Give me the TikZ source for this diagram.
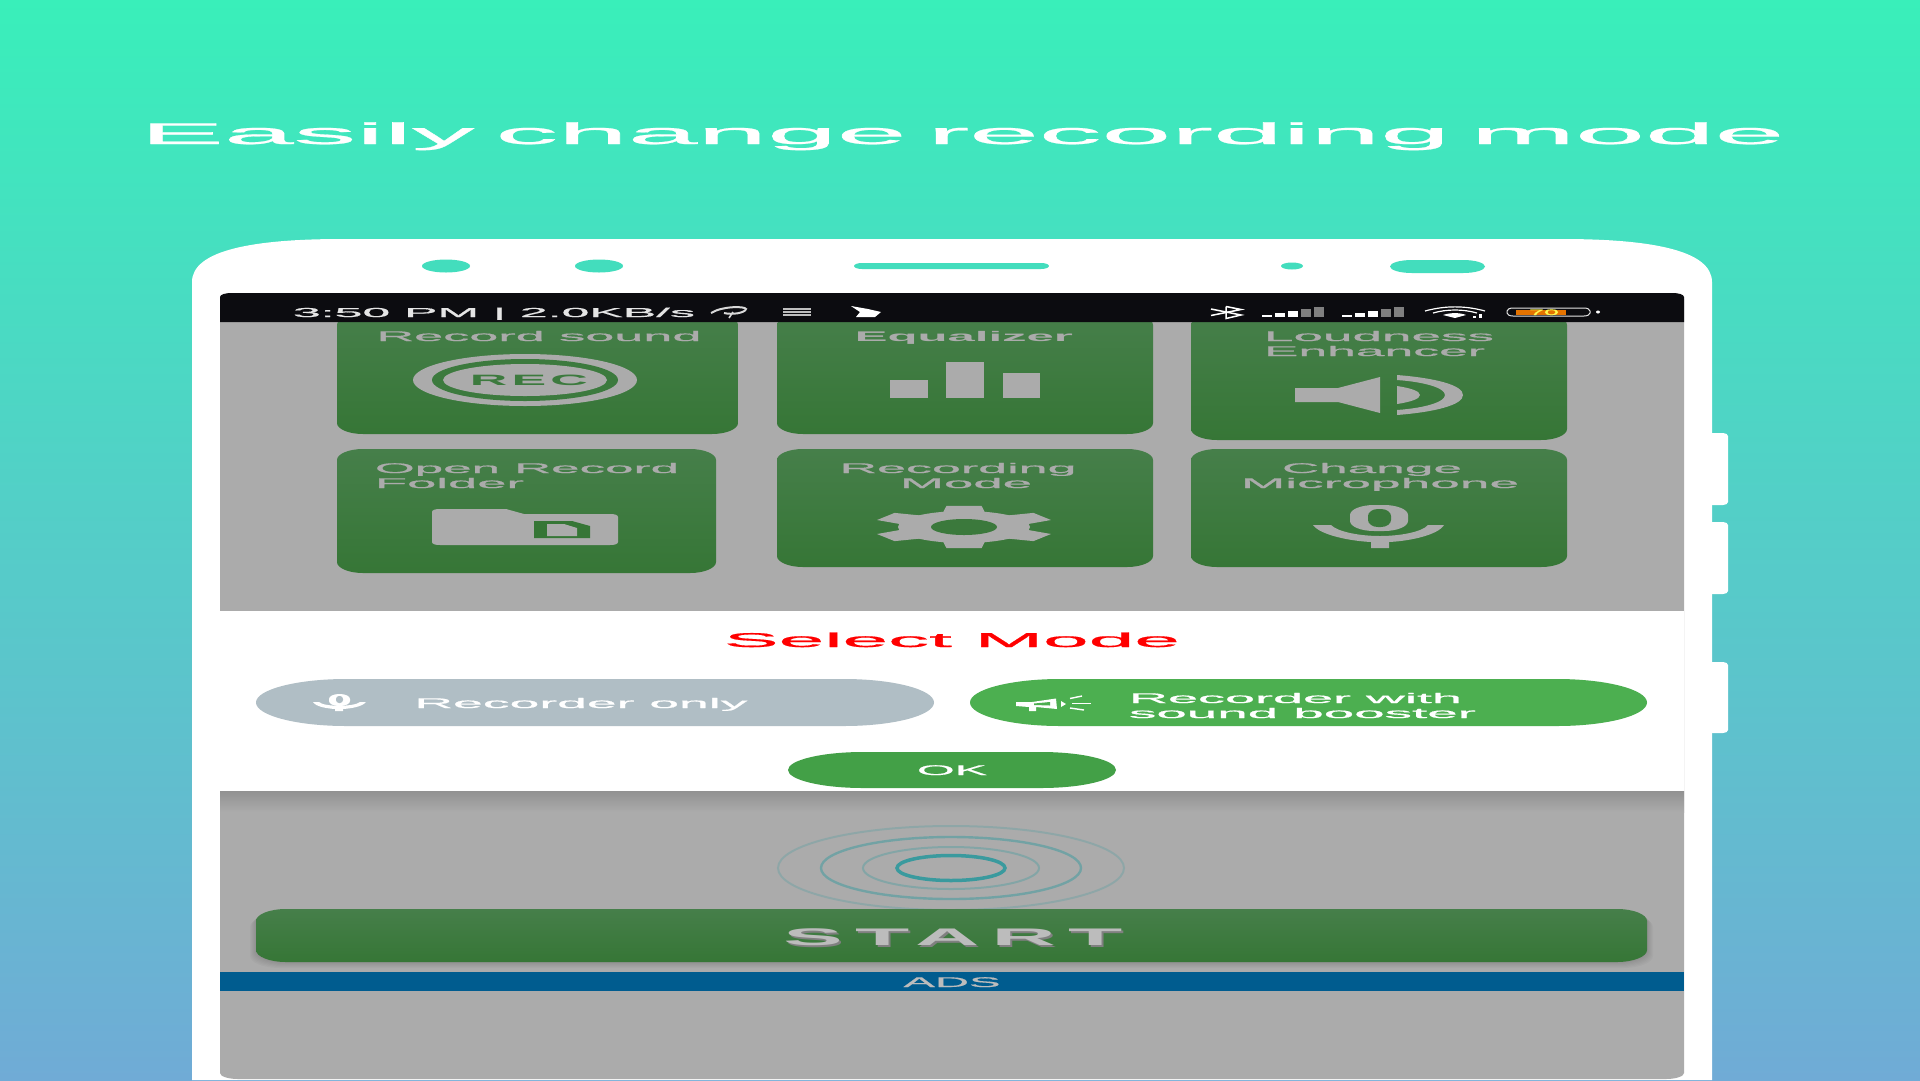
\documentclass[tikz,border=0pt]{standalone}
\usepackage{graphicx}
\usepackage{fontspec}
\setmainfont[FakeBold=0.6,BoldFeatures={FakeBold=0}]{Liberation Sans}
\newfontfamily\titlefont[WordSpace=0.6,FakeBold=0.6]{Liberation Sans}
\usetikzlibrary{calc}

\definecolor{bgtop}{HTML}{39EFBA}
\definecolor{bgbottom}{HTML}{70ABD6}
\definecolor{hole}{HTML}{43DDBD}
\definecolor{screengray}{HTML}{ABABAB}
\definecolor{barblack}{HTML}{0C0C10}
\definecolor{btntop}{HTML}{467F4A}
\definecolor{btnbottom}{HTML}{367636}
\definecolor{pillgray}{HTML}{B0BEC5}
\definecolor{pillgreen}{HTML}{4CAF50}
\definecolor{okgreen}{HTML}{43A047}
\definecolor{adsblue}{HTML}{005C8F}
\definecolor{ringteal}{HTML}{3A9A9E}

\newcommand{\rrect}[6]{({#1+#5},#2) -- ({#3-#5},#2) .. controls ({#3-0.45*#5},#2) and (#3,{#2+0.45*#6}) .. (#3,{#2+#6}) -- (#3,{#4-#6}) .. controls (#3,{#4-0.45*#6}) and ({#3-0.45*#5},#4) .. ({#3-#5},#4) -- ({#1+#5},#4) .. controls ({#1+0.45*#5},#4) and (#1,{#4-0.45*#6}) .. (#1,{#4-#6}) -- (#1,{#2+#6}) .. controls (#1,{#2+0.45*#6}) and ({#1+0.45*#5},#2) .. ({#1+#5},#2) -- cycle}
\newcommand{\widetext}[2]{\resizebox{#1pt}{\height}{#2}}

\tikzset{
	txt/.style={inner sep=0pt,outer sep=0pt,anchor=base},
	btn/.style={top color=btntop,bottom color=btnbottom},
	btntxt/.style={txt,text=screengray,font=\fontsize{14}{14}\selectfont},
	pilltxt/.style={txt,text=white,font=\fontsize{14}{14}\selectfont},
	bartxt/.style={txt,text=white!90!black,font=\fontsize{13}{13}\selectfont}
}

\begin{document}
\begin{tikzpicture}[x=1pt,y=-1pt]
	\useasboundingbox (0,0) rectangle (1920,1080);

	\shade[top color=bgtop,bottom color=bgbottom] (0,0) rectangle (1920,1080);

	\node[txt,text=white,font=\titlefont\fontsize{30}{30}\selectfont] (title) at (962.5,144) {\widetext{1644}{Easily change recording mode}};

	% side keys
	\fill[white] \rrect{1700}{433}{1728}{505}{5}{3};
	\fill[white] \rrect{1700}{522}{1728}{594}{5}{3};
	\fill[white] \rrect{1700}{662}{1728}{733}{5}{3};

	% phone
	\fill[white] (192,1080) -- (192,282) .. controls (192,250) and (254,239) .. (342,239) -- (1562,239) .. controls (1650,239) and (1712,250) .. (1712,282) -- (1712,1080) -- cycle;

	\fill[hole] (446,266) ellipse [x radius=24pt,y radius=6.5pt];
	\fill[hole] (599,266) ellipse [x radius=24pt,y radius=6.5pt];
	\fill[hole] \rrect{854}{263}{1049}{269}{8}{3};
	\fill[hole] (1292,266) ellipse [x radius=11pt,y radius=3.5pt];
	\fill[hole] \rrect{1390}{260}{1485}{273}{22}{6.5};

	% screen
	\fill[screengray] \rrect{220}{293}{1684}{1079}{18}{6};

	% first row of buttons
	\shade[btn] \rrect{337}{314}{738}{434}{26}{11};
	\shade[btn] \rrect{777}{314}{1153}{434}{26}{11};
	\shade[btn] \rrect{1191}{314}{1567}{440}{26}{11};

	% second row of buttons
	\shade[btn] \rrect{337}{449}{716}{573}{26}{11};
	\shade[btn] \rrect{777}{449}{1153}{567}{26}{11};
	\shade[btn] \rrect{1191}{449}{1567}{567}{26}{11};

	\node[btntxt] (recordlabel) at (539,341) {\widetext{325}{Record sound}};
	\node[btntxt,font=\fontsize{14}{14}\selectfont\bfseries] (equalizerlabel) at (964,341) {\widetext{218}{Equalizer}};
	\node[btntxt] (loudlabel) at (1379,341) {\widetext{230}{Loudness}};
	\node[btntxt,anchor=base west] (enhancerlabel) at (1264,356) {\widetext{221}{Enhancer}};
	\node[btntxt,anchor=base west] (openlabel) at (375,473) {\widetext{304}{Open Record}};
	\node[btntxt,anchor=base west] (folderlabel) at (375,488) {\widetext{149}{Folder}};
	\node[btntxt] (modelabela) at (958,473) {\widetext{237}{Recording}};
	\node[btntxt] (modelabelb) at (966,488) {\widetext{132}{Mode}};
	\node[btntxt] (changelabel) at (1372,473) {\widetext{180}{Change}};
	\node[btntxt] (miclabel) at (1380,488) {\widetext{278}{Microphone}};

	% rec icon
	\fill[screengray] (525,380) ellipse [x radius=112pt,y radius=26pt];
	\fill[btnbottom!60!btntop] (525,380) ellipse [x radius=93pt,y radius=21pt];
	\fill[screengray] (525,380) ellipse [x radius=82pt,y radius=16pt];
	\node[txt,text=btnbottom!60!btntop,font=\fontsize{15}{15}\selectfont\bfseries\addfontfeatures{LetterSpace=8}] (reclabel) at (529,385.5) {\widetext{118}{REC}};

	% equalizer icon
	\fill[screengray] (890,380) rectangle (928,398);
	\fill[screengray] (946,362) rectangle (984,398);
	\fill[screengray] (1003,373) rectangle (1040,398);

	% speaker icon
	\fill[screengray] (1295,388) -- (1338,388) -- (1380,377) -- (1380,413) -- (1338,402) -- (1295,402) -- cycle;
	\fill[screengray] (1397,386) .. controls (1410,388) and (1420,391) .. (1420,395) .. controls (1420,399) and (1410,402) .. (1397,404) -- cycle;
	\fill[screengray] (1397,375) .. controls (1435,378) and (1463,385) .. (1463,395) .. controls (1463,405) and (1435,412) .. (1397,415) -- (1397,410) .. controls (1425,408) and (1445,402) .. (1445,395) .. controls (1445,388) and (1425,382) .. (1397,380) -- cycle;

	% folder icon
	\fill[screengray] (440,509) -- (506,509) -- (524,514) -- (610,514) .. controls (615,514) and (618,515) .. (618,517) -- (618,542) .. controls (618,544) and (615,545) .. (610,545) -- (440,545) .. controls (435,545) and (432,544) .. (432,542) -- (432,512) .. controls (432,510) and (435,509) .. (440,509) -- cycle;
	\fill[btnbottom] (534,521) -- (572,521) -- (590,526) -- (590,538) -- (534,538) -- cycle;
	\fill[screengray] (547,524) -- (564,524) -- (577,528) -- (577,536) -- (547,536) -- cycle;

	% gear icon
	\begin{scope}[shift={(964,527)},x=92pt,y=21.5pt]
		\fill[screengray] (0,0) ellipse [x radius=66pt,y radius=16pt];
		\foreach \a in {30,90,150,210,270,330}
			\fill[screengray] (\a-20:.68) -- (\a-11:1) -- (\a+11:1) -- (\a+20:.68) -- cycle;
		\fill[btnbottom!70!btntop] (0,0) ellipse [x radius=33pt,y radius=8pt];
	\end{scope}

	% microphone icon
	\fill[screengray] \rrect{1350}{505}{1408}{531}{24}{10};
	\fill[btnbottom!70!btntop] \rrect{1368}{509}{1391}{527}{10}{7};
	\fill[screengray] (1313,525) -- (1331,525) .. controls (1338,532) and (1360,536) .. (1380,536) .. controls (1400,536) and (1422,532) .. (1428,525) -- (1444,525) .. controls (1438,535) and (1410,541) .. (1389,542) -- (1389,548) -- (1371,548) -- (1371,542) .. controls (1350,541) and (1320,535) .. (1313,525) -- cycle;

	% status bar
	\fill[barblack] (220,322) -- (220,297) .. controls (220,294.5) and (225,293) .. (232,293) -- (1672,293) .. controls (1679,293) and (1684,294.5) .. (1684,297) -- (1684,322) -- cycle;

	\node[bartxt] (clock) at (494,317) {\widetext{402}{3:50 PM | 2.0KB/s}};

	\draw[white!85!black,line width=2pt] (711,313) .. controls (722,306) and (745,306) .. (746,309) .. controls (745,313) and (732,315) .. (724,313);
	\draw[white!85!black,line width=1.6pt] (729,318) -- (733,312);
	\foreach \yy in {309,312,315}
		\draw[white!75!black,line width=1.6pt] (783,\yy) -- (811,\yy);
	\fill[white] (851,306) -- (868,309) -- (881,312) -- (875,317) -- (856,317) -- (860,312) -- cycle;

	\draw[white,line width=1.5pt] (1226,306.5) -- (1226,318.5) -- (1241,315) -- (1211,309);
	\draw[white,line width=1.5pt] (1211,315.5) -- (1241,309.5) -- (1226,306.5);

	\foreach \xo in {1262,1342}{
		\foreach \bx/\bh/\bc in {0/2/white,13/4/white,26/6/white,39/8/gray,52/10/gray}
			\fill[\bc] ({\xo+\bx},317) rectangle ({\xo+\bx+10},{317-\bh});
	}

	\draw[white,line width=1.2pt] (1425,311) .. controls (1445,305.5) and (1465,305.5) .. (1485,311);
	\draw[white,line width=1.2pt] (1433,313) .. controls (1447,309) and (1463,309) .. (1477,313);
	\fill[white] (1443,315) .. controls (1450,312.5) and (1460,312.5) .. (1466,315) -- (1455,318) -- cycle;
	\fill[white] (1473,316) rectangle (1476,318);
	\fill[white] (1479,314) rectangle (1482,318);

	\draw[white!90!black,line width=1pt] \rrect{1507}{308}{1590}{316}{6}{3};
	\fill[orange!90!black] (1516,309.5) rectangle (1566,314.5);
	\node[txt,text=yellow!70!white,font=\fontsize{8}{8}\selectfont] (batterylabel) at (1544,315) {\widetext{30}{70}};
	\fill[white] (1598,312) ellipse [x radius=2pt,y radius=1.5pt];

	% dialog
	\fill[white] (220,611) rectangle (1684,791);

	\node[txt,text=red,font=\fontsize{20}{20}\selectfont] (selectlabel) at (952,647) {\widetext{456}{Select Mode}};

	\fill[pillgray] \rrect{256}{679}{934}{726}{90}{23.5};
	\fill[pillgreen] \rrect{970}{679}{1647}{726}{90}{23.5};
	\fill[okgreen] \rrect{788}{752}{1116}{788}{75}{18};

	\node[pilltxt] (onlylabel) at (581,708) {\widetext{333}{Recorder only}};
	\node[pilltxt,anchor=base west] (boostlabela) at (1129,703) {\widetext{333}{Recorder with}};
	\node[pilltxt,anchor=base west] (boostlabelb) at (1129,718) {\widetext{347}{sound booster}};
	\node[pilltxt] (oklabel) at (952,775) {\widetext{70}{OK}};

	% small mic icon
	\fill[white] \rrect{329}{694}{350}{706}{10}{5};
	\fill[pillgray] \rrect{336}{696}{343}{703}{3}{3};
	\fill[white] (313,702) -- (319,702) .. controls (324,707) and (354,707) .. (360,702) -- (366,702) .. controls (362,707) and (350,708.5) .. (343,709) -- (343,711) -- (335,711) -- (335,709) .. controls (328,708.5) and (316,707) .. (313,702) -- cycle;

	% megaphone icon
	\fill[white] (1016,702) -- (1032,702) -- (1056,698.5) -- (1057,709) -- (1036,707) -- (1036,711) -- (1029,711) -- (1029,707) -- (1016,706) -- cycle;
	\fill[pillgreen] (1034,703.5) -- (1050,702) -- (1050,705.5) -- (1034,705) -- cycle;
	\fill[white] (1061,701) -- (1066,704) -- (1061,707) -- cycle;
	\draw[white,line width=1.4pt] (1070,698.5) -- (1082,696);
	\draw[white,line width=1.4pt] (1072,703.5) -- (1091,703.5);
	\draw[white,line width=1.4pt] (1070,708) -- (1084,710);

	% lower part of the screen
	\shade[top color=screengray!85!black,bottom color=screengray] (220,791) rectangle (1684,812);

	\draw[ringteal,opacity=.25,line width=2pt] (951,868) ellipse [x radius=173pt,y radius=42pt];
	\draw[ringteal,opacity=.5,line width=2.4pt] (951,868) ellipse [x radius=130pt,y radius=31pt];
	\draw[ringteal,opacity=.35,line width=2pt] (951,868) ellipse [x radius=88pt,y radius=21pt];
	\draw[ringteal,line width=3.5pt] (951,868) ellipse [x radius=54pt,y radius=12.5pt];

	\foreach \sh in {1,2,...,6}
		\fill[black,opacity=.025] \rrect{256-\sh}{909+\sh}{1647+\sh}{962+\sh}{30}{12};
	\shade[btn] \rrect{256}{909}{1647}{962}{30}{12};

	\node[txt,text=black!50,font=\fontsize{24}{24}\selectfont\bfseries\addfontfeatures{LetterSpace=14}] (startshadow) at (955,947) {\widetext{339}{START}};
	\node[txt,text=screengray!80!white,font=\fontsize{24}{24}\selectfont\bfseries\addfontfeatures{LetterSpace=14}] (startlabel) at (953,945) {\widetext{339}{START}};

	\fill[adsblue] (220,972) rectangle (1684,991);
	\node[txt,text=screengray!80!white,font=\fontsize{14}{14}\selectfont] (adslabel) at (952,987) {\widetext{97}{ADS}};
\end{tikzpicture}
\end{document}
